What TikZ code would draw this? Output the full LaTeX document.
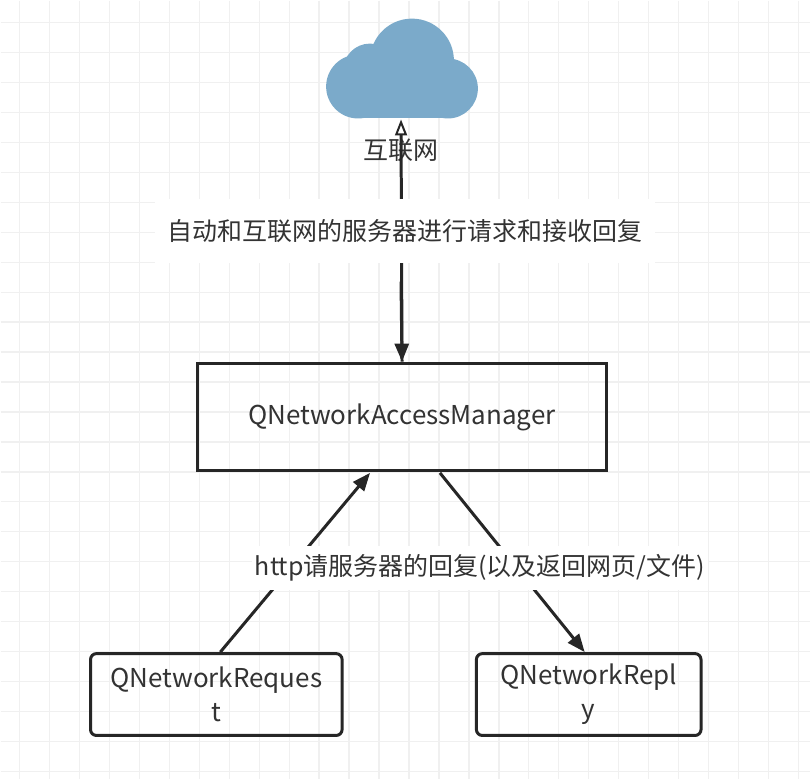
\documentclass[tikz,border=0pt]{standalone}
\usepackage{fontspec}
\setmainfont{Noto Sans CJK SC}
\usetikzlibrary{arrows.meta}
\definecolor{nuage}{HTML}{7BAACA}
\begin{document}
\begin{tikzpicture}[x=1pt,y=-1pt]
		% Styles
		\tikzstyle{boite}=[draw=black!85,line width=3pt,inner sep=0pt,align=center,font=\fontsize{26}{34}\selectfont,text=black!80]
		\tikzstyle{fleche}=[-{Triangle[length=18pt,width=14pt]},line width=3pt,draw=black!85]
		\tikzstyle{etiquette}=[fill=white,font=\fontsize{25}{30}\selectfont,text=black!80,inner sep=3pt]
		% Fond
		\fill[white] (0,0) rectangle (811,780);
		\foreach \i in {0,...,26} {\draw[black!6,line width=1.3pt] ({19+30*\i},0) -- ({19+30*\i},780);}
		\foreach \j in {0,...,25} {\draw[black!6,line width=1.3pt] (0,{22+30*\j}) -- (811,{22+30*\j});}
		\useasboundingbox (0,0) rectangle (811,780);
		% Nuage
		\fill[nuage] (358,86) circle (32);
		\fill[nuage] (448,88) circle (30);
		\fill[nuage] (412,60) circle (42);
		\fill[nuage] (370,70) circle (27);
		\fill[nuage] (358,80) rectangle (448,118);
		\node[font=\fontsize{25}{30}\selectfont,text=black!80] (net) at (401,150) {互联网};
		\coordinate (cloud) at (401,119);
		% Noeuds
		\node[boite,minimum width=410pt,minimum height=108pt] (qnam) at (402,417) {QNetworkAccessManager};
		\node[boite,rounded corners=6pt,minimum width=252pt,minimum height=82pt] (req) at (216,695) {QNetworkReques\\t};
		\node[boite,rounded corners=6pt,minimum width=225pt,minimum height=82pt] (rep) at (589,695) {QNetworkRepl\\y};
		% Arcs
		\draw[line width=3pt,draw=black!85,-{Triangle[open,length=16pt,width=12pt,line width=2pt]}] (qnam.north) -- (cloud);
		\draw[fleche] (qnam.north -| cloud) ++(0,-80) -- (qnam.north);
		\node[etiquette,minimum width=500pt,minimum height=64pt] (lab1) at (405,231) {自动和互联网的服务器进行请求和接收回复};
		\draw[fleche] (req.north -| 220,0) -- (370,473);
		\draw[fleche] (440,473) -- (rep.north -| 585,0);
		\node[etiquette,minimum height=44pt] (lab2) at (480,568) {http请服务器的回复(以及返回网页/文件)};
\end{tikzpicture}
\end{document}
